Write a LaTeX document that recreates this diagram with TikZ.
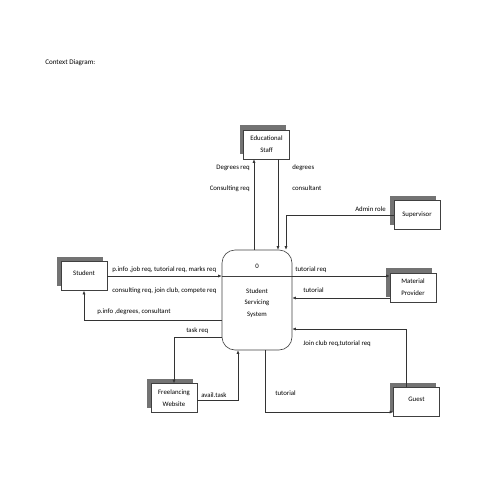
\documentclass[tikz,border=0pt]{standalone}
\usepackage{fontspec}
\setmainfont{Carlito}
\usetikzlibrary{arrows.meta,shadows}
\tikzset{
  entity/.style={draw=black!75,fill=white,minimum width=46pt,minimum height=29pt,inner sep=1pt,align=center,
    general shadow={fill=black!55,shadow xshift=-4pt,shadow yshift=5pt}},
  process/.style={draw=black!75,rounded corners=13pt,minimum width=70pt,minimum height=100pt},
  flow/.style={draw=black!80,line width=.6pt,-{Latex[length=3.5pt,width=3pt]}},
  lbl/.style={inner sep=0pt,anchor=base west},
}
\begin{document}
\begin{tikzpicture}[x=1pt,y=-1pt,font=\fontsize{6.8}{11.8}\selectfont,line width=.6pt]
		\useasboundingbox (0,0) rectangle (495,495);
		\node[lbl,font=\fontsize{7.1}{9}\selectfont] (title) at (45,65) {Context Diagram:};
		% the system
		\node[process] (sss) at (257,300) {};
		\node (zero) at (257,266) {0};
		\draw[black!75] (sss.west |- 0,276) -- (sss.east |- 0,276);
		\node[align=center] (sssname) at (257,303) {Student\\Servicing\\System};
		% external entities
		\node[entity] (edu) at (266.5,144.5) {Educational\\Staff};
		\node[entity] (sup) at (417,215) {Supervisor};
		\node[entity,text depth=6pt] (stu) at (84,276) {Student};
		\node[entity] (mat) at (413,287.5) {Material\\Provider};
		\node[entity] (free) at (174,398) {Freelancing\\Website};
		\node[entity,text depth=6pt] (guest) at (416.5,402) {Guest};
		% helper points
		\coordinate (upx) at (254,0);
		\coordinate (dnx) at (278,0);
		\coordinate (admx) at (286,0);
		\coordinate (retx) at (84,0);
		\coordinate (taskx) at (174,0);
		\coordinate (availx) at (238,0);
		\coordinate (tutx) at (265,0);
		\coordinate (joinx) at (406,0);
		% flows
		\draw[flow] (upx |- sss.north) -- (upx |- edu.south);
		\draw[flow] (dnx |- edu.south) -- (dnx |- sss.north);
		\draw[flow] (sup.west) -| (admx |- sss.north);
		\draw[flow] (stu.east |- 0,276) -- (sss.west |- 0,276);
		\draw[flow] (sss.west |- 0,320) -| (retx |- stu.south);
		\draw[flow] (sss.west |- 0,337) -| (taskx |- free.north);
		\draw[flow] (free.east |- 0,400) -| (availx |- sss.south);
		\draw[flow] (sss.east |- 0,276) -- (mat.west |- 0,276);
		\draw[flow] (mat.west |- 0,298) -- (sss.east |- 0,298);
		\draw[flow] (tutx |- sss.south) |- (guest.west |- 0,412);
		\draw[flow] (joinx |- guest.north) |- (sss.east |- 0,329);
		% flow labels
		\node[lbl,anchor=base east] at (250,169) {Degrees req};
		\node[lbl,anchor=base east] at (250,190) {Consulting req};
		\node[lbl] at (292,169) {degrees};
		\node[lbl] at (292,190) {consultant};
		\node[lbl] at (355,211) {Admin role};
		\node[lbl] at (112,271) {p.info ,job req, tutorial req, marks req};
		\node[lbl] at (112,292) {consulting req, join club, compete req};
		\node[lbl] at (97,313) {p.info ,degrees, consultant};
		\node[lbl] at (186,332) {task req};
		\node[lbl] at (201,397) {avail.task};
		\node[lbl] at (275,395) {tutorial};
		\node[lbl] at (295,271) {tutorial req};
		\node[lbl] at (303,292) {tutorial};
		\node[lbl] at (303,345) {Join club req,tutorial req};
\end{tikzpicture}
\end{document}
